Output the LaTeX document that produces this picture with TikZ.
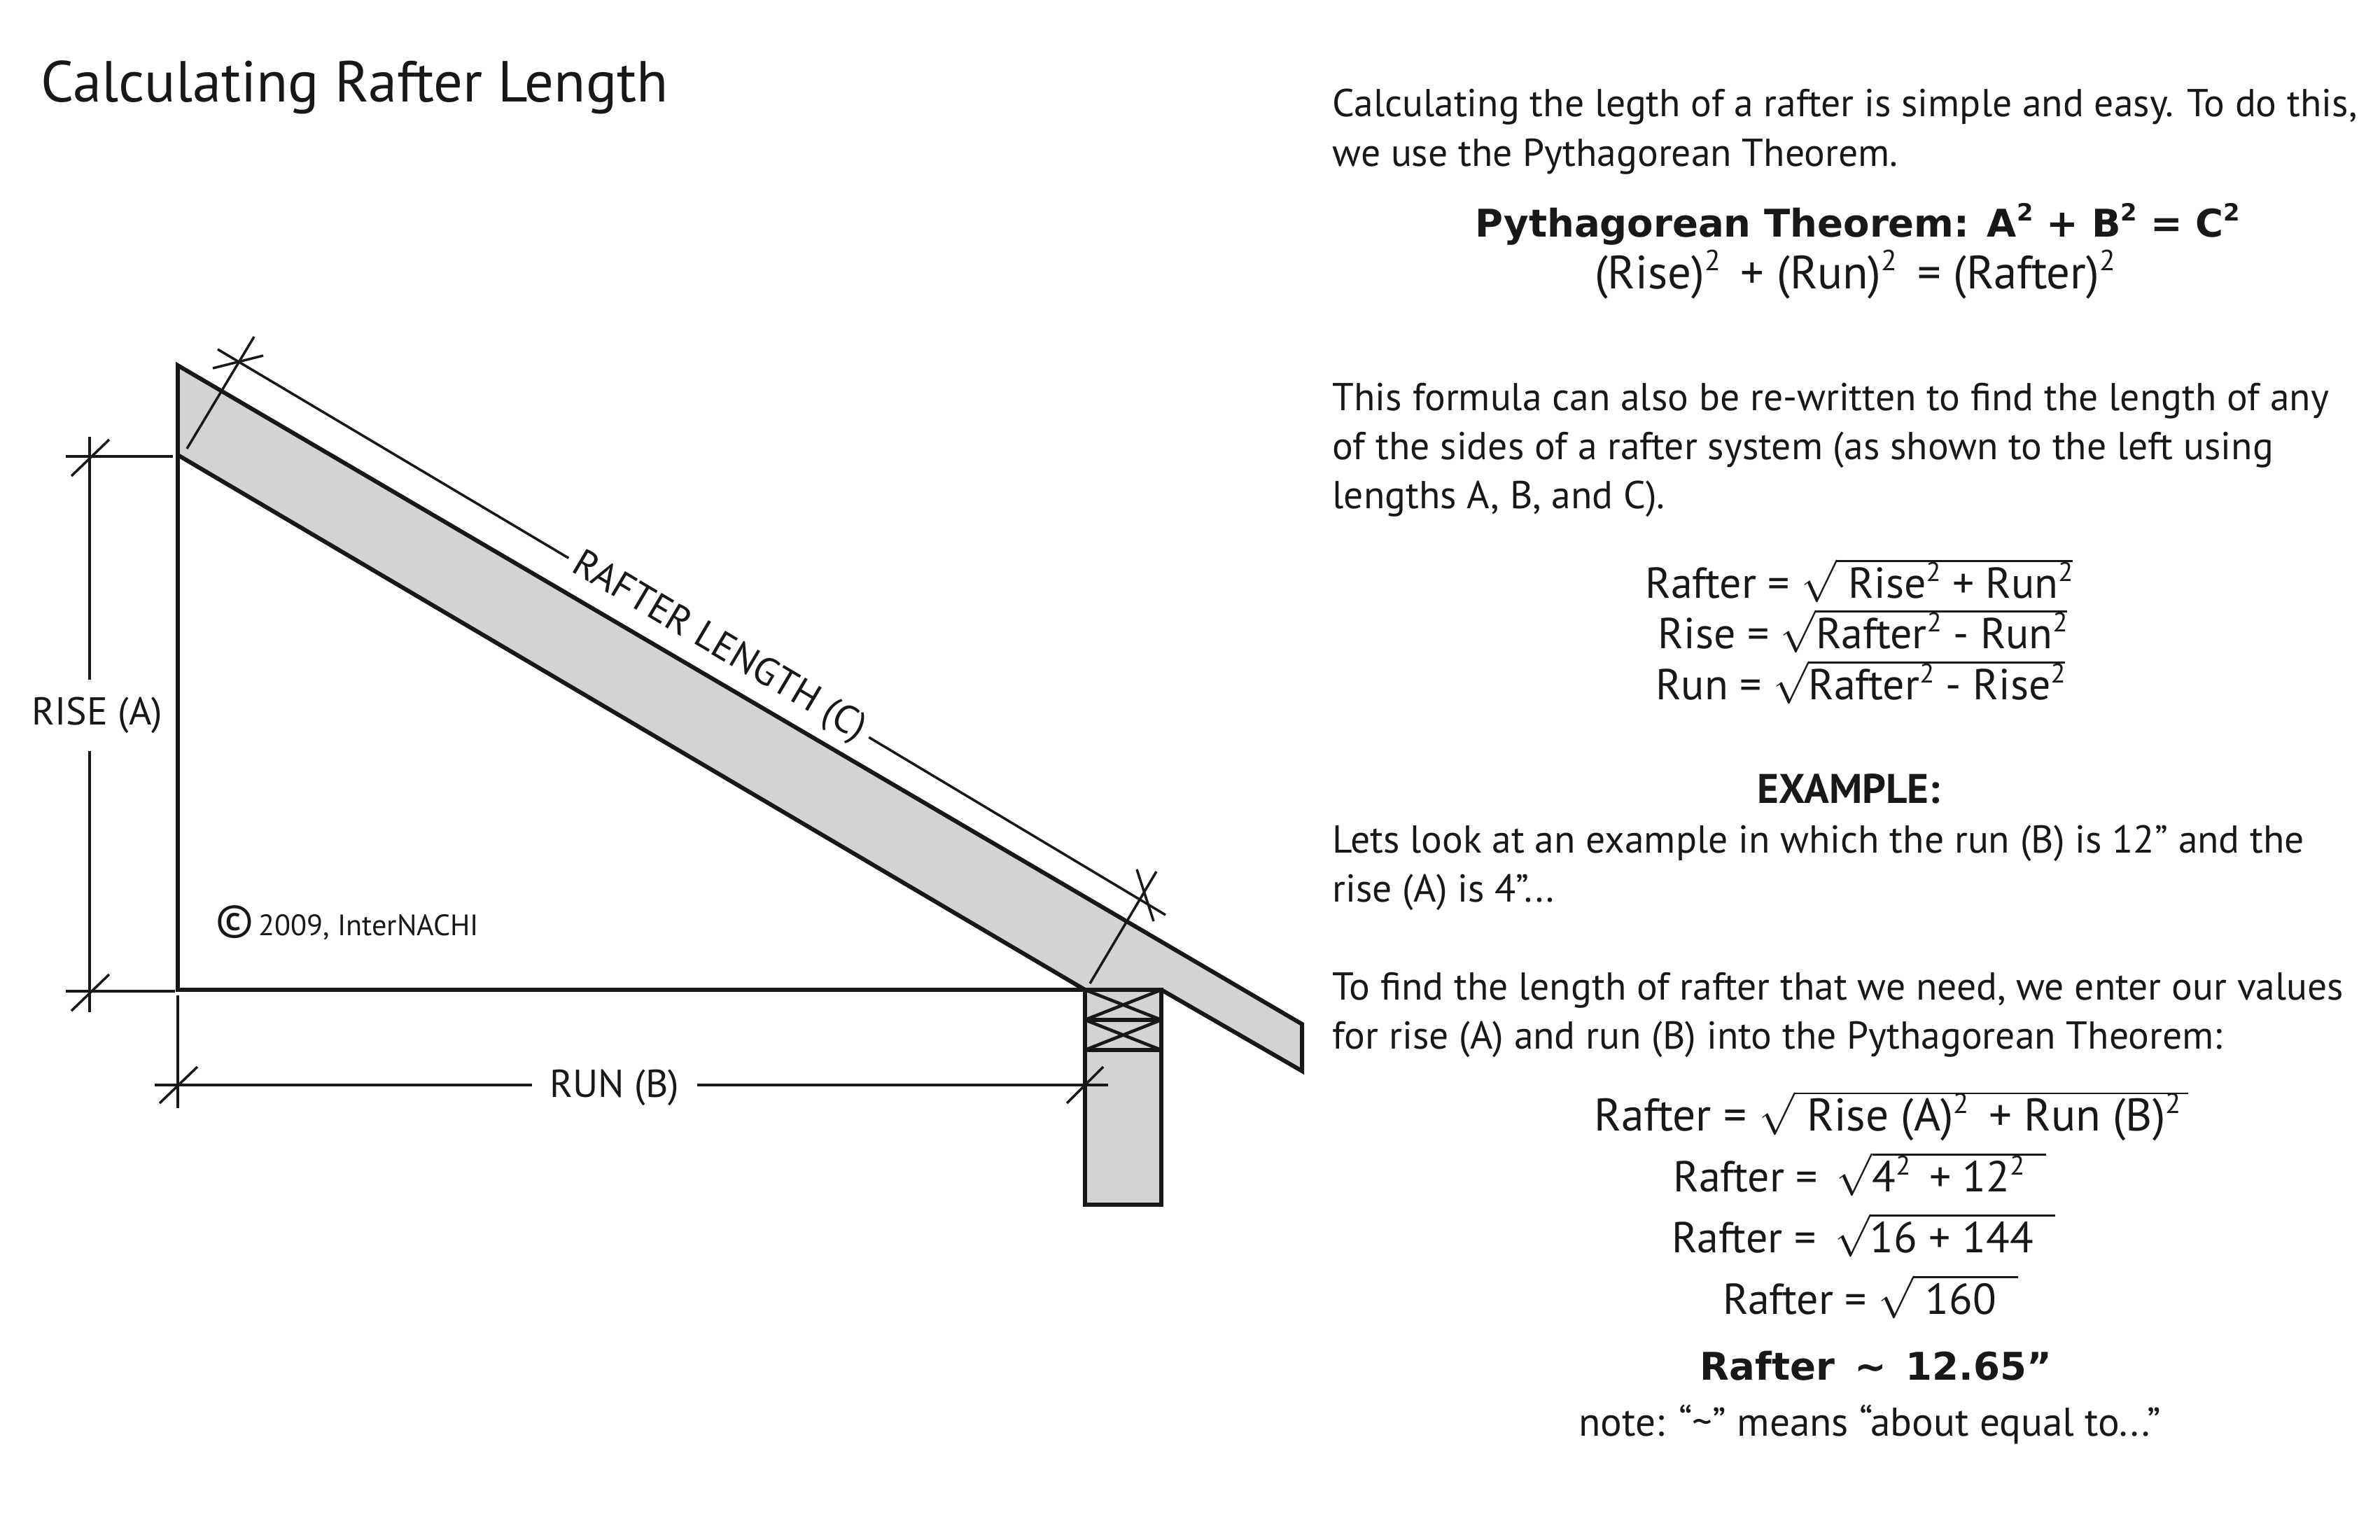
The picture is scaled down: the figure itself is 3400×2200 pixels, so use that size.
\documentclass[tikz,border=0pt]{standalone}
\usepackage{mathtools,amssymb}
\usepackage{fontspec}
\setmainfont{PT Sans}
\newfontfamily\widebold{DejaVu Sans}
\usepackage{tikz}
\usetikzlibrary{calc}
\definecolor{lumber}{HTML}{D1D3D4}
\definecolor{ink}{HTML}{1A1718}
\newcommand{\rootterm}[1]{$\sqrt{\vphantom{R}\smash{\text{#1}}}$}
\newcommand{\sq}{\raisebox{.75ex}{\scalebox{.62}{2}}}
\tikzset{
	every node/.style={text=ink,inner sep=0pt},
	wood/.style={draw=ink,fill=lumber,line width=1.7pt,line join=miter},
	heavy/.style={draw=ink,line width=1.7pt},
	plate/.style={draw=ink,line width=1.3pt},
	dimline/.style={draw=ink,line width=1pt},
	dimtext/.style={font=\fontsize{15.8}{18}\selectfont,inner sep=7pt},
	bodytext/.style={anchor=west,align=left,font=\fontsize{15.8}{20}\selectfont},
	eqn/.style={anchor=base,font=\fontsize{17.6}{21}\selectfont},
	boldeqn/.style={anchor=base,font=\fontsize{15.5}{20}\selectfont\widebold\bfseries},
}
\begin{document}
\begin{tikzpicture}[x=0.01cm,y=-0.01cm]
		\useasboundingbox (0,0) rectangle (3400,2200);
		% rafter outline
		\coordinate (apex) at (254,522);
		\coordinate (tail) at (1860,1463);
		\coordinate (fascia) at (1860,1530);
		\coordinate (heelout) at (1659,1414);
		\coordinate (heelin) at (1550,1414);
		\coordinate (plumb) at (254,650);
		\coordinate (corner) at (254,1414);
		\path[wood] (apex) -- (tail) -- (fascia) -- (heelout) -- (heelin) -- (plumb) -- cycle;
		% wall with double plate
		\coordinate (walltl) at (1550,1414);
		\coordinate (walltr) at (1659,1414);
		\coordinate (wallml) at (1550,1457);
		\coordinate (wallmr) at (1659,1457);
		\coordinate (wallbl) at (1550,1500);
		\coordinate (wallbr) at (1659,1500);
		\coordinate (wallfoot) at (1659,1721);
		\path[wood] (walltl) rectangle (wallfoot);
		\path[plate]
		(walltl) -- (wallmr)
		(walltr) -- (wallml)
		(wallml) -- (wallbr)
		(wallmr) -- (wallbl);
		\path[heavy]
		(wallml) -- (wallmr)
		(wallbl) -- (wallbr)
		(apex) -- (corner) -- (walltl);
		% rise dimension
		\coordinate (risetop) at (128,624);
		\coordinate (risebot) at (128,1446);
		\coordinate (riseupa) at (94,652);
		\coordinate (riseupb) at (247,652);
		\coordinate (riselowa) at (94,1416);
		\coordinate (riselowb) at (250,1416);
		\coordinate (riseslasha) at (102,680);
		\coordinate (riseslashb) at (156,628);
		\coordinate (riseslashc) at (102,1444);
		\coordinate (riseslashd) at (156,1392);
		\node[dimtext] (riselabel) at (139,1022) {RISE (A)};
		\path[dimline]
		(risetop) edge (risetop |- riselabel.north)
		(risebot |- riselabel.south) edge (risebot)
		(riseupa) edge (riseupb)
		(riselowa) edge (riselowb)
		(riseslasha) edge (riseslashb)
		(riseslashc) edge (riseslashd);
		% run dimension
		\coordinate (runleft) at (221,1550);
		\coordinate (runright) at (1583,1550);
		\coordinate (runupa) at (254,1422);
		\coordinate (runupb) at (254,1583);
		\coordinate (runslasha) at (228,1576);
		\coordinate (runslashb) at (282,1524);
		\coordinate (runslashc) at (1524,1576);
		\coordinate (runslashd) at (1576,1524);
		\node[dimtext] (runlabel) at (878,1554) {RUN (B)};
		\path[dimline]
		(runleft) edge (runleft -| runlabel.west)
		(runright -| runlabel.east) edge (runright)
		(runupa) edge (runupb)
		(runslasha) edge (runslashb)
		(runslashc) edge (runslashd);
		% rafter length dimension
		\coordinate (raftera) at (311,499);
		\coordinate (rafterb) at (1665,1307);
		\coordinate (extaa) at (267,641);
		\coordinate (extab) at (363,481);
		\coordinate (extba) at (1557,1405);
		\coordinate (extbb) at (1652,1245);
		\coordinate (slashaa) at (304,526);
		\coordinate (slashab) at (376,508);
		\coordinate (slashba) at (1624,1242);
		\coordinate (slashbb) at (1648,1316);
		\node[dimtext,rotate=-30.6,inner xsep=3pt] (rafterlabel) at (1027,925) {RAFTER LENGTH (C)};
		\path[dimline]
		(raftera) edge (rafterlabel)
		(rafterlabel) edge (rafterb)
		(extaa) edge (extab)
		(extba) edge (extbb)
		(slashaa) edge (slashab)
		(slashba) edge (slashbb);
		% credit and title
		\node[anchor=base west,font=\fontsize{12}{14}\selectfont] (credit) at (308,1336) {{\fontsize{19}{19}\selectfont ©}\,2009, InterNACHI};
		\node[anchor=base west,font=\fontsize{23.5}{28}\selectfont] (title) at (58,146) {Calculating Rafter Length};
		% right column
		\node[bodytext] (intro) at (1903,188) {Calculating the legth of a rafter is simple and easy. To do this,\\we use the Pythagorean Theorem.};
		\node[boldeqn] (pyth) at (2654,338) {Pythagorean Theorem: A\sq{} + B\sq{} = C\sq};
		\node[eqn,font=\fontsize{19}{21}\selectfont] (pythwords) at (2650,412) {(Rise)\sq{} \,+ (Run)\sq{} \,= (Rafter)\sq};
		\node[bodytext] (rewrite) at (1903,643) {This formula can also be re-written to find the length of any\\of the sides of a rafter system (as shown to the left using\\lengths A, B, and C).};
		\node[eqn] (raftereq) at (2656,854) {Rafter = \rootterm{ Rise\sq{} + Run\sq}};
		\node[eqn] (riseeq) at (2661,926) {Rise = \rootterm{Rafter\sq{} - Run\sq}};
		\node[eqn] (runeq) at (2658,999) {Run = \rootterm{Rafter\sq{} - Rise\sq}};
		\node[anchor=base,font=\fontsize{16.8}{20}\selectfont\bfseries] (example) at (2641,1147) {EXAMPLE:};
		\node[bodytext] (lets) at (1903,1240) {Lets look at an example in which the run (B) is 12” and the\\rise (A) is 4”...};
		\node[bodytext] (tofind) at (1903,1450) {To find the length of rafter that we need, we enter our values\\for rise (A) and run (B) into the Pythagorean Theorem:};
		\node[eqn,font=\fontsize{18.6}{21}\selectfont] (stepa) at (2702,1615) {Rafter = \rootterm{ Rise (A)\sq{} \,+ Run (B)\sq{}\,}};
		\node[eqn] (stepb) at (2657,1702) {Rafter = \,\rootterm{4\sq{} \,+ 12\sq\,\,\,}};
		\node[eqn] (stepc) at (2662,1789) {Rafter = \,\rootterm{16 + 144\enspace}};
		\node[eqn] (stepd) at (2672,1877) {Rafter = \rootterm{ 160\enspace}};
		\node[boldeqn] (answer) at (2680,1971) {Rafter\,  \textasciitilde\,  12.65”};
		\node[anchor=base,font=\fontsize{16.3}{20}\selectfont] (note) at (2671,2051) {note: “\textasciitilde” means “about equal to...”};
\end{tikzpicture}
\end{document}
